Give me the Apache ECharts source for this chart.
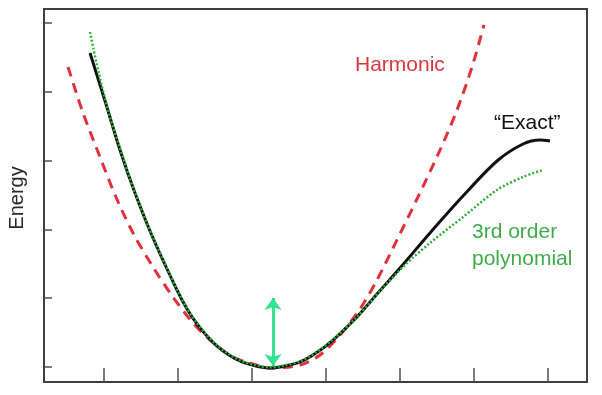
<!DOCTYPE html>
<html>
<head>
<meta charset="utf-8">
<script src="https://cdn.jsdelivr.net/npm/echarts@6/dist/echarts.min.js"></script>
<style>
html,body{margin:0;padding:0;background:#fff;}
#chart{width:602px;height:395px;}
</style>
</head>
<body>
<div id="chart"></div>
<script>
// Data (arbitrary units)
var xTicks = [1, 2, 3, 4, 5, 6, 7];
var yTicks = [0, 1, 2, 3, 4, 5];

var xHarmonic = [0.514, 0.716, 0.946, 1.149, 1.392, 1.662, 1.932, 2.203, 2.432, 2.743, 3.014, 3.243, 3.649, 3.919, 4.189, 4.459, 4.689, 4.959, 5.230, 5.541, 5.770, 5.973, 6.135];
var yHarmonic = [4.360, 3.692, 3.052, 2.500, 1.948, 1.453, 1.017, 0.640, 0.392, 0.145, 0.044, -0.015, 0.029, 0.174, 0.465, 0.843, 1.265, 1.846, 2.442, 3.154, 3.735, 4.360, 4.971];

var xExact = [0.811, 1.014, 1.216, 1.419, 1.662, 1.986, 2.122, 2.257, 2.392, 2.527, 2.689, 2.865, 3.054, 3.243, 3.446, 3.649, 3.865, 4.095, 4.419, 4.689, 5.000, 5.405, 5.851, 6.311, 6.662, 6.892, 7.027];
var yExact = [4.564, 3.866, 3.154, 2.529, 1.875, 1.119, 0.843, 0.625, 0.451, 0.305, 0.174, 0.073, 0.015, -0.015, 0.015, 0.073, 0.203, 0.392, 0.727, 1.061, 1.439, 1.948, 2.485, 2.994, 3.241, 3.299, 3.285];

var xPoly = [0.811, 0.919, 1.054, 1.189, 1.419, 1.662, 1.986, 2.122, 2.257, 2.392, 2.527, 2.689, 2.865, 3.054, 3.243, 3.446, 3.649, 3.865, 4.095, 4.419, 4.730, 5.068, 5.405, 5.851, 6.311, 6.662, 6.932];
var yPoly = [4.869, 4.317, 3.735, 3.270, 2.529, 1.885, 1.129, 0.853, 0.635, 0.461, 0.315, 0.184, 0.083, 0.025, -0.005, 0.025, 0.083, 0.213, 0.402, 0.727, 1.105, 1.483, 1.802, 2.180, 2.573, 2.762, 2.863];

var arrowX = 3.284;
var arrowYLow = 0.015;
var arrowYHigh = 1.003;

function pairs(xs, ys) { return xs.map(function (x, i) { return [x, ys[i]]; }); }

var chart = echarts.init(document.getElementById('chart'), null, {renderer: 'canvas'});
var FONT = '"Liberation Sans", Arial, sans-serif';
chart.setOption({
  animation: false,
  backgroundColor: '#ffffff',
  grid: {left: 44, top: 9, width: 543, height: 373, show: true, borderColor: '#404040', borderWidth: 2, backgroundColor: 'transparent'},
  xAxis: {
    type: 'value', min: 0.189, max: 7.527,
    axisLine: {show: false, onZero: false},
    axisTick: {show: true, inside: true, length: 14, customValues: xTicks, lineStyle: {color: '#505050', width: 1.5}},
    axisLabel: {show: false},
    splitLine: {show: false}
  },
  yAxis: {
    type: 'value', min: -0.218, max: 5.203,
    axisLine: {show: false, onZero: false},
    axisTick: {show: true, inside: true, length: 8, customValues: yTicks, lineStyle: {color: '#505050', width: 1.5}},
    axisLabel: {show: false},
    splitLine: {show: false}
  },
  series: [
    {
      name: 'Harmonic', type: 'line', smooth: 0.3, showSymbol: false,
      data: pairs(xHarmonic, yHarmonic),
      lineStyle: {color: '#e0323c', width: 3, type: [10, 7]}
    },
    {
      name: 'Exact', type: 'line', smooth: 0.3, showSymbol: false,
      data: pairs(xExact, yExact),
      lineStyle: {color: '#111111', width: 3}
    },
    {
      name: '3rd order polynomial', type: 'line', smooth: 0.3, showSymbol: false,
      data: pairs(xPoly, yPoly),
      lineStyle: {color: '#2fae3a', width: 2.5, type: [2, 2]},
      markLine: {
        silent: true, symbol: ['arrow', 'arrow'], symbolSize: [13, 12],
        label: {show: false},
        lineStyle: {color: '#33e38f', width: 3, type: 'solid'},
        data: [[{coord: [arrowX, arrowYLow]}, {coord: [arrowX, arrowYHigh]}]]
      }
    }
  ],
  graphic: [
    {type: 'text', x: 17, y: 198, rotation: Math.PI / 2,
     style: {text: 'Energy', font: '20px ' + FONT, fill: '#2a2a2a', textAlign: 'center', textVerticalAlign: 'middle'}},
    {type: 'text', x: 355, y: 65,
     style: {text: 'Harmonic', font: '21px ' + FONT, fill: '#d9363e', textAlign: 'left', textVerticalAlign: 'middle'}},
    {type: 'text', x: 494, y: 123,
     style: {text: '\u201CExact\u201D', font: '21px ' + FONT, fill: '#111111', textAlign: 'left', textVerticalAlign: 'middle'}},
    {type: 'text', x: 472, y: 232,
     style: {text: '3rd order', font: '21px ' + FONT, fill: '#3ead49', textAlign: 'left', textVerticalAlign: 'middle'}},
    {type: 'text', x: 472, y: 259,
     style: {text: 'polynomial', font: '21px ' + FONT, fill: '#3ead49', textAlign: 'left', textVerticalAlign: 'middle'}}
  ]
});
</script>
</body>
</html>
